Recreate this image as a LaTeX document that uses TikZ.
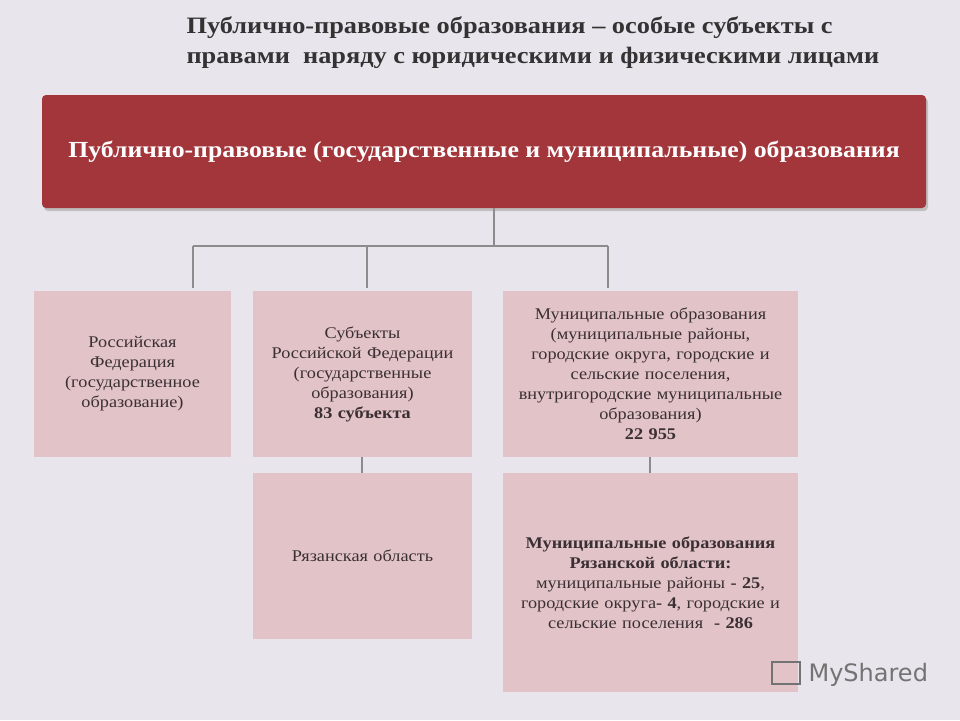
\documentclass[tikz,border=0pt]{standalone}
\usepackage{fontspec}
\setmainfont[FakeStretch=1.12]{Liberation Serif}
\newfontfamily\logofont{DejaVu Sans}
\begin{document}
\begin{tikzpicture}[x=1pt,y=-1pt,
  box/.style={draw=none,fill=boxfill,align=center,text=txt,font=\fontsize{16.3}{20}\selectfont,inner sep=2pt},
  conn/.style={draw=linegray,line width=1.5pt}]
\definecolor{bg}{HTML}{E9E5EC}
\definecolor{boxfill}{HTML}{E2C3C7}
\definecolor{red1}{HTML}{A2363B}
\definecolor{txt}{HTML}{3A3033}
\definecolor{linegray}{HTML}{8C8C8C}
\fill[bg] (0,0) rectangle (960,720);
\node[anchor=north west,align=left,font=\bfseries\fontsize{23.5}{30}\selectfont,text=black!80] (title) at (183,13)
  {Публично-правовые образования -- особые субъекты с\\правами \ наряду с юридическими и физическими лицами};
\fill[black!25,rounded corners=4pt] (44,98) rectangle (928,211);
\node[fill=red1,rounded corners=4pt,minimum width=884pt,minimum height=113pt,inner sep=0pt,text=white,font=\bfseries\fontsize{23}{24}\selectfont] (top) at (484,151.5)
  {Публично-правовые (государственные и муниципальные) образования};
\node[box,minimum width=197pt,minimum height=166pt,text width=193pt] (a) at (132.5,374) {Российская\\Федерация\\(государственное\\образование)};
\node[box,minimum width=219pt,minimum height=166pt,text width=215pt] (b) at (362.5,374) {Субъекты\\Российской Федерации\\(государственные\\образования)\\\textbf{83 субъекта}};
\node[box,minimum width=295pt,minimum height=166pt,text width=291pt] (c) at (650.5,374) {Муниципальные образования\\(муниципальные районы,\\городские округа, городские и\\сельские поселения,\\внутригородские муниципальные\\образования)\\\textbf{22 955}};
\node[box,minimum width=219pt,minimum height=166pt,text width=215pt] (d) at (362.5,556) {Рязанская область};
\node[box,minimum width=295pt,minimum height=219pt,text width=291pt] (e) at (650.5,582.5) {\textbf{Муниципальные образования}\\\textbf{Рязанской области:}\\муниципальные районы \textbf{- 25},\\городские округа\textbf{- 4}, городские и\\сельские поселения \ \textbf{- 286}};
\coordinate (j) at (494,246);
\draw[conn] (494,208) -- (j);
\draw[conn] (193,246) -- (608,246);
\draw[conn] (193,246) -- (193,288);
\draw[conn] (367,246) -- (367,288);
\draw[conn] (608,246) -- (608,288);
\draw[conn] (362,457) -- (362,473);
\draw[conn] (650,457) -- (650,473);
\node[anchor=west,text=black!55,font=\logofont\fontsize{24}{24}\selectfont] (logo) at (805,675) {MyShared};
\draw[black!55,line width=2pt] (772,662) rectangle (800,684);
\end{tikzpicture}
\end{document}
